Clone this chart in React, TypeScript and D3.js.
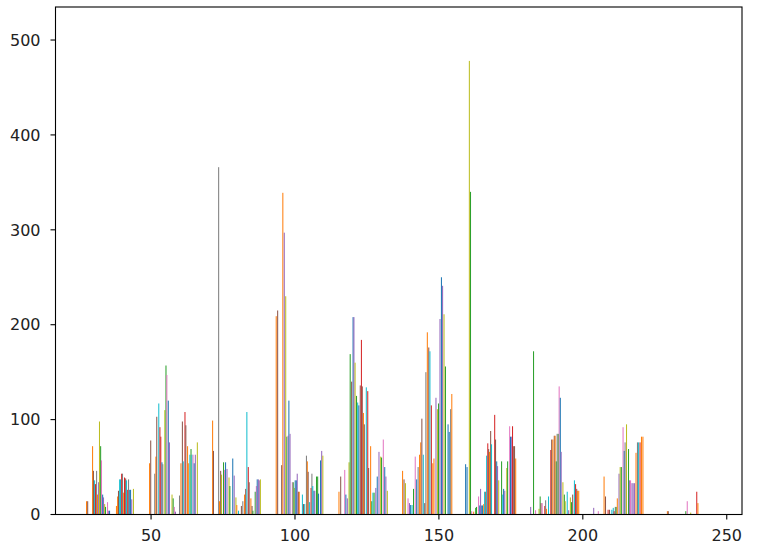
import React from "react";
import * as d3 from "d3";

// tab10 colour keys
const COLORS: Record<string, string> = {
  b: "#1f77b4", o: "#ff7f0e", g: "#2ca02c", r: "#d62728", p: "#9467bd",
  n: "#8c564b", k: "#e377c2", y: "#7f7f7f", l: "#bcbd22", c: "#17becf",
};

// [x (left edge), count, colour key]
const groupA: [number, number, string][] = [
  [27.4, 14, "o"], [27.8, 14, "n"],
  [29.5, 72, "o"], [29.8, 46, "n"], [30.2, 36, "c"], [30.5, 32, "r"], [30.9, 46, "y"],
  [31.2, 21, "o"], [31.6, 34, "p"], [31.9, 98, "l"], [32.3, 72, "g"], [32.6, 57, "k"],
  [33.0, 21, "b"], [33.3, 18, "p"], [33.7, 11, "l"], [34.0, 8, "g"], [34.7, 13, "k"],
  [35.1, 4, "p"], [35.4, 4, "b"],
];
const groupB: [number, number, string][] = [
  [37.8, 9, "o"], [38.2, 19, "o"], [38.5, 25, "n"], [38.9, 37, "c"], [39.2, 37, "c"],
  [39.6, 43, "r"], [39.9, 43, "y"], [40.3, 23, "o"], [40.6, 39, "r"], [41.0, 38, "n"],
  [41.3, 36, "c"], [41.7, 26, "r"], [42.0, 37, "y"], [42.4, 26, "b"], [42.7, 26, "b"],
  [43.1, 16, "p"], [43.7, 27, "l"],
];
const groupC: [number, number, string][] = [
  [49.3, 54, "o"], [49.7, 78, "n"], [51.1, 43, "y"], [51.5, 61, "o"], [51.8, 103, "n"],
  [52.5, 117, "c"], [52.9, 92, "r"], [53.2, 82, "r"], [53.6, 55, "b"], [53.9, 53, "y"],
  [54.6, 110, "l"], [55.0, 157, "g"], [55.3, 147, "k"], [55.8, 120, "b"], [56.2, 76, "p"],
  [57.1, 21, "l"], [57.5, 17, "g"], [57.9, 8, "k"], [58.3, 3, "p"],
];
const groupD: [number, number, string][] = [
  [59.7, 20, "y"], [60.2, 54, "o"], [60.7, 98, "n"], [61.0, 56, "c"], [61.6, 108, "r"],
  [61.9, 94, "n"], [62.5, 72, "o"], [62.9, 54, "o"], [63.3, 63, "c"], [63.7, 69, "g"],
  [64.0, 63, "c"], [64.4, 63, "k"], [64.8, 54, "b"], [65.2, 63, "p"], [65.9, 76, "l"],
];
const groupE: [number, number, string][] = [
  [71.2, 99, "o"], [71.5, 67, "n"], [73.3, 366, "y"], [73.6, 14, "o"], [74.0, 46, "n"],
  [74.3, 42, "l"], [75.0, 55, "g"], [75.4, 47, "k"], [75.7, 55, "b"], [76.2, 48, "p"],
  [76.9, 39, "l"], [77.2, 30, "g"], [78.2, 59, "b"], [78.7, 41, "p"], [79.3, 18, "l"],
  [79.6, 10, "o"], [80.2, 4, "c"], [81.2, 9, "n"], [81.7, 14, "y"], [82.3, 21, "o"],
  [82.7, 27, "n"], [83.1, 108, "c"], [83.6, 50, "r"], [83.9, 34, "n"], [84.5, 17, "o"],
  [84.9, 9, "n"], [85.2, 4, "g"], [86.0, 24, "g"], [86.4, 30, "k"], [86.7, 37, "b"],
  [87.1, 37, "p"], [87.4, 36, "p"], [87.8, 37, "l"],
];
const groupF: [number, number, string][] = [
  [93.3, 209, "o"], [93.8, 215, "n"], [95.2, 52, "n"], [95.6, 339, "o"], [96.1, 297, "p"],
  [96.6, 230, "l"], [97.0, 82, "g"], [97.4, 83, "k"], [97.7, 120, "b"], [98.1, 85, "p"],
  [98.9, 34, "k"], [99.2, 34, "g"], [99.6, 28, "l"], [99.9, 36, "b"], [100.3, 36, "b"],
  [100.6, 43, "p"], [101.0, 24, "n"], [101.3, 24, "o"], [102.4, 21, "c"], [102.8, 11, "n"],
  [103.2, 11, "c"], [103.8, 62, "y"], [104.1, 56, "o"], [104.4, 45, "n"], [104.9, 13, "c"],
  [105.4, 28, "r"], [105.7, 43, "y"], [106.0, 30, "c"], [106.4, 25, "b"], [106.7, 25, "p"],
  [107.3, 40, "g"], [107.7, 40, "g"], [108.0, 22, "b"], [108.7, 57, "b"], [109.1, 67, "p"],
  [109.5, 62, "l"],
];
const groupG: [number, number, string][] = [
  [115.1, 24, "o"], [115.7, 40, "n"], [117.1, 47, "k"], [117.5, 21, "b"], [118.0, 17, "p"],
  [118.6, 55, "l"], [119.0, 169, "g"], [119.5, 140, "n"], [120.0, 208, "b"], [120.3, 208, "p"],
  [120.7, 160, "l"], [121.2, 125, "g"], [121.6, 118, "c"], [122.0, 115, "b"], [122.5, 136, "n"],
  [122.9, 184, "r"], [123.2, 135, "n"], [123.6, 107, "o"], [123.9, 95, "n"], [124.6, 134, "c"],
  [125.1, 130, "r"], [125.4, 49, "n"], [126.1, 72, "o"], [126.5, 14, "g"], [126.9, 23, "c"],
  [127.3, 23, "g"], [127.9, 28, "p"], [128.4, 40, "b"], [129.0, 66, "p"], [129.6, 61, "l"],
  [129.9, 60, "g"], [130.5, 79, "k"], [131.0, 50, "b"], [131.4, 40, "p"], [131.9, 25, "l"],
];
const groupH: [number, number, string][] = [
  [137.2, 46, "o"], [137.7, 37, "n"], [138.2, 33, "l"], [139.1, 17, "k"], [139.6, 12, "p"],
  [140.0, 10, "b"], [140.5, 10, "c"], [141.0, 27, "g"], [141.6, 61, "k"], [142.1, 37, "b"],
  [142.6, 50, "y"], [143.1, 63, "o"], [143.5, 76, "o"], [143.9, 101, "n"], [144.4, 63, "c"],
  [144.9, 12, "n"], [145.3, 150, "y"], [145.8, 192, "o"], [146.3, 176, "n"], [146.7, 172, "c"],
  [147.2, 115, "r"], [147.7, 54, "o"], [148.1, 59, "o"], [148.8, 123, "p"], [149.3, 111, "l"],
  [149.7, 117, "g"], [150.2, 206, "p"], [150.7, 250, "b"], [151.1, 241, "p"], [151.6, 211, "l"],
  [152.1, 156, "g"], [153.0, 95, "b"], [153.4, 87, "b"], [153.9, 111, "y"], [154.3, 127, "o"],
];
const groupI: [number, number, string][] = [
  [159.1, 53, "b"], [159.6, 50, "b"], [160.4, 478, "l"], [160.8, 340, "g"], [161.2, 3.5, "k"],
  [161.9, 3, "o"], [162.6, 7, "g"], [162.9, 8, "g"], [163.6, 19, "k"], [164.0, 9.5, "b"],
  [164.3, 27, "p"], [164.7, 9.5, "b"], [165.0, 9.5, "b"], [165.4, 11, "o"], [165.7, 24, "c"],
  [166.1, 24, "n"], [166.4, 62, "c"], [166.8, 75, "r"], [167.1, 69, "n"], [167.4, 66, "o"],
  [167.8, 88, "n"], [168.1, 74, "c"], [169.2, 105, "r"], [169.5, 79, "n"], [169.9, 56, "b"],
  [170.2, 51, "p"], [170.6, 36, "l"], [171.6, 56, "g"], [172.0, 21, "c"], [172.3, 27, "b"],
  [172.7, 25, "p"], [173.4, 49, "l"], [173.7, 56, "g"], [174.4, 93, "k"], [174.7, 82, "b"],
  [175.1, 82, "p"], [175.4, 93, "r"], [175.8, 72, "n"], [176.1, 72, "n"], [176.5, 59, "o"],
];
const groupJ: [number, number, string][] = [
  [181.7, 8, "p"], [182.7, 172, "g"], [183.4, 4.5, "k"], [184.6, 6, "l"], [185.0, 19, "g"],
  [185.3, 12, "n"], [185.7, 12, "k"], [186.6, 9, "r"], [186.9, 15, "y"], [187.2, 6, "o"],
  [187.9, 19, "c"], [188.7, 68, "r"], [189.0, 79, "n"], [189.4, 79, "o"], [189.9, 83, "n"],
  [190.2, 83, "o"], [190.6, 56, "g"], [190.9, 85, "y"], [191.3, 85, "g"], [191.6, 135, "k"],
  [192.0, 123, "b"], [192.3, 66, "p"], [192.9, 34, "l"], [193.4, 21, "g"], [193.7, 14, "l"],
  [194.4, 24, "c"], [194.9, 4.5, "p"], [195.5, 18, "l"], [195.9, 13, "g"], [196.3, 21, "n"],
  [196.9, 36, "c"], [197.3, 32, "r"], [197.7, 27, "n"], [198.0, 25, "o"], [198.4, 25, "o"],
];
const groupK: [number, number, string][] = [
  [203.6, 7, "p"], [205.2, 3.5, "k"], [207.2, 40, "o"], [207.7, 19, "n"], [208.6, 5, "r"],
  [209.1, 5, "n"], [209.9, 5, "c"], [210.4, 7, "c"], [210.7, 3.5, "r"], [211.1, 8, "y"],
  [211.4, 8, "g"], [211.8, 17, "o"], [212.4, 43, "p"], [212.8, 50, "l"], [213.2, 50, "g"],
  [213.8, 92, "k"], [214.2, 67, "b"], [214.5, 76, "y"], [215.0, 95, "l"], [215.7, 69, "g"],
  [216.0, 36, "p"], [216.4, 36, "k"], [216.9, 33, "p"], [217.3, 33, "p"], [217.8, 33, "p"],
  [218.3, 65, "o"], [218.8, 76, "y"], [219.2, 76, "c"], [219.7, 76, "r"], [220.2, 82, "o"],
  [220.7, 82, "o"], [229.2, 3.5, "o"], [229.5, 3.5, "n"], [235.6, 3.5, "g"], [236.1, 14, "k"],
  [237.3, 2, "l"], [239.4, 24, "r"], [239.8, 12, "o"],
];

const xTicks = [50, 100, 150, 200, 250];
const yTicks = [0, 100, 200, 300, 400, 500];
const xDomain: [number, number] = [16.8, 255.3];
const yDomain: [number, number] = [0, 534.8];
const BAR_W = 0.36;

const W = 757, H = 551;
const M = { left: 55.5, right: 742, top: 7, bottom: 514.5 };

export default function App() {
  const bars = [
    ...groupA, ...groupB, ...groupC, ...groupD, ...groupE, ...groupF,
    ...groupG, ...groupH, ...groupI, ...groupJ, ...groupK,
  ];
  const x = d3.scaleLinear().domain(xDomain).range([M.left, M.right]);
  const y = d3.scaleLinear().domain(yDomain).range([M.bottom, M.top]);
  const font = "'DejaVu Sans', sans-serif";
  return (
    <svg width={W} height={H} style={{ position: "absolute", left: 0, top: 0, background: "#fff" }}>
      <rect x={0} y={0} width={W} height={H} fill="#fff" />
      {bars.map(([bx, bh, c], i) => (
        <rect
          key={i}
          x={x(bx)}
          y={y(bh)}
          width={x(bx + BAR_W) - x(bx)}
          height={y(0) - y(bh)}
          fill={COLORS[c]}
        />
      ))}
      <rect
        x={M.left}
        y={M.top}
        width={M.right - M.left}
        height={M.bottom - M.top}
        fill="none"
        stroke="#000"
        strokeWidth={1.1}
      />
      {xTicks.map((t) => (
        <g key={"x" + t} transform={`translate(${x(t)},${M.bottom})`}>
          <line y1={0} y2={5} stroke="#000" strokeWidth={1.1} />
          <text y={26.5} textAnchor="middle" fontFamily={font} fontSize={16} fill="#222">
            {t}
          </text>
        </g>
      ))}
      {yTicks.map((t) => (
        <g key={"y" + t} transform={`translate(${M.left},${y(t)})`}>
          <line x1={0} x2={-5} stroke="#000" strokeWidth={1.1} />
          <text x={-15} dy="0.36em" textAnchor="end" fontFamily={font} fontSize={16} fill="#222">
            {t}
          </text>
        </g>
      ))}
    </svg>
  );
}
